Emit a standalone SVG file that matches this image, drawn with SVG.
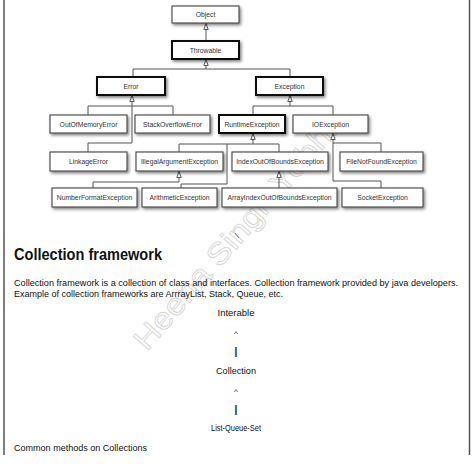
<svg xmlns="http://www.w3.org/2000/svg" width="474" height="474" viewBox="0 0 474 474">
<defs>
<filter id="sh" x="-20%" y="-30%" width="140%" height="170%">
<feDropShadow dx="1.5" dy="1.8" stdDeviation="1.4" flood-color="#000" flood-opacity="0.5"/>
</filter>
<marker id="tri" viewBox="0 0 8 6" refX="8" refY="3" markerWidth="7" markerHeight="5.5" markerUnits="userSpaceOnUse" orient="auto">
<path d="M0.5,0.5 L7.5,3 L0.5,5.5 z" fill="#fff" stroke="#444" stroke-width="1"/>
</marker>
</defs>
<style>
.box{fill:#fff;stroke:#444;stroke-width:1.1;filter:url(#sh)}
.bold{fill:#fff;stroke:#111;stroke-width:2;filter:url(#sh)}
.lbl{font-family:"Liberation Sans",Arial,sans-serif;font-size:6.8px;fill:#333;text-anchor:middle}
.con path{fill:none;stroke:#555;stroke-width:1}
.txt{font-family:"Liberation Sans",Arial,sans-serif;fill:#111}
.c{text-anchor:middle}
</style>
<rect width="474" height="474" fill="#fff"/>
<g id="frame" fill="none" stroke="#555" stroke-width="1.5">
<path d="M4,0 V455"/>
<path d="M469.5,0 V455"/>
</g>
<text transform="translate(147,352) rotate(-49)" font-family="Liberation Sans,Arial,sans-serif" font-size="30" fill="none" stroke="#d4d4d4" stroke-width="0.8" textLength="292" lengthAdjust="spacingAndGlyphs">Heena Singh Yobhi</text>
<g class="con">
<path d="M206,41 V23" marker-end="url(#tri)"/>
<path d="M206,69 V59" marker-end="url(#tri)"/>
<path d="M133,77 V69 H290 V77"/>
<path d="M132,106 V95" marker-end="url(#tri)"/>
<path d="M88,115 V106 H173 V115"/>
<path d="M132,106 V143 H88 V152"/>
<path d="M290,106 V95" marker-end="url(#tri)"/>
<path d="M253,115 V106 H333 V115"/>
<path d="M253,144 V133" marker-end="url(#tri)"/>
<path d="M179,152 V144 H279 V152"/>
<path d="M227,144 V184 H181 V188"/>
<path d="M179,182 V171" marker-end="url(#tri)"/>
<path d="M179,182 H93 V188"/>
<path d="M279,188 V171" marker-end="url(#tri)"/>
<path d="M333,143 V133" marker-end="url(#tri)"/>
<path d="M333,143 H381 V152"/>
<path d="M333,143 V181 H381 V188"/>
</g>
<g id="object"><rect class="box" x="172" y="6" width="67" height="17"/><text class="lbl" x="205.5" y="17">Object</text></g>
<g id="throwable"><rect class="bold" x="172" y="41" width="67" height="18"/><text class="lbl" x="205.5" y="52.5">Throwable</text></g>
<g id="error"><rect class="bold" x="97" y="77" width="68" height="18"/><text class="lbl" x="131" y="88.5">Error</text></g>
<g id="exception"><rect class="bold" x="256" y="77" width="67" height="18"/><text class="lbl" x="289.5" y="88.5">Exception</text></g>
<g id="outofmemoryerror"><rect class="box" x="50" y="115" width="77" height="18"/><text class="lbl" x="88.5" y="126.5">OutOfMemoryError</text></g>
<g id="stackoverflowerror"><rect class="box" x="135" y="115" width="75" height="18"/><text class="lbl" x="172.5" y="126.5">StackOverflowError</text></g>
<g id="runtimeexception"><rect class="bold" x="219" y="115" width="66" height="18"/><text class="lbl" x="252" y="126.5">RuntimeException</text></g>
<g id="ioexception"><rect class="box" x="293" y="115" width="75" height="18"/><text class="lbl" x="330.5" y="126.5">IOException</text></g>
<g id="linkageerror"><rect class="box" x="50" y="152" width="77" height="19"/><text class="lbl" x="88.5" y="164">LinkageError</text></g>
<g id="illegalargumentexception"><rect class="box" x="136" y="152" width="87" height="19"/><text class="lbl" x="179.5" y="164">IllegalArgumentException</text></g>
<g id="indexoutofboundsexception"><rect class="box" x="232" y="152" width="96" height="19"/><text class="lbl" x="280" y="164">IndexOutOfBoundsException</text></g>
<g id="filenotfoundexception"><rect class="box" x="340" y="152" width="83" height="19"/><text class="lbl" x="381.5" y="164">FileNotFoundException</text></g>
<g id="numberformatexception"><rect class="box" x="52" y="188" width="85" height="19"/><text class="lbl" x="94.5" y="200">NumberFormatException</text></g>
<g id="arithmeticexception"><rect class="box" x="142" y="188" width="75" height="19"/><text class="lbl" x="179.5" y="200">ArithmeticException</text></g>
<g id="arrayindexoutofboundsexception"><rect class="box" x="222" y="188" width="115" height="19"/><text class="lbl" x="279.5" y="200">ArrayIndexOutOfBoundsException</text></g>
<g id="socketexception"><rect class="box" x="342" y="188" width="81" height="19"/><text class="lbl" x="382.5" y="200">SocketException</text></g>
<path d="M235,233 L239,238" stroke="#555" stroke-width="0.8"/>
<g id="text">
<text class="txt" x="14" y="260" font-size="16" font-weight="bold" textLength="148" lengthAdjust="spacingAndGlyphs">Collection framework</text>
<text class="txt" x="14" y="286" font-size="9.5" textLength="444" lengthAdjust="spacingAndGlyphs">Collection framework is a collection of class and interfaces. Collection framework provided by java developers.</text>
<text class="txt" x="14" y="297" font-size="9.5" textLength="269" lengthAdjust="spacingAndGlyphs">Example of collection frameworks are ArrrayList, Stack, Queue, etc.</text>
<text class="txt c" x="236" y="316" font-size="9.5" textLength="37" lengthAdjust="spacingAndGlyphs">Interable</text>
<text class="txt c" x="236" y="336" font-size="8">^</text>
<text class="txt c" x="236" y="355" font-size="10" font-weight="bold">|</text>
<text class="txt c" x="236" y="374" font-size="9.5" textLength="40" lengthAdjust="spacingAndGlyphs">Collection</text>
<text class="txt c" x="236" y="394" font-size="8">^</text>
<text class="txt c" x="236" y="413" font-size="10" font-weight="bold">|</text>
<text class="txt c" x="236" y="431" font-size="9.5" textLength="50" lengthAdjust="spacingAndGlyphs">List-Queue-Set</text>
<text class="txt" x="14" y="451" font-size="9.5" textLength="133" lengthAdjust="spacingAndGlyphs">Common methods on Collections</text>
</g>
</svg>
